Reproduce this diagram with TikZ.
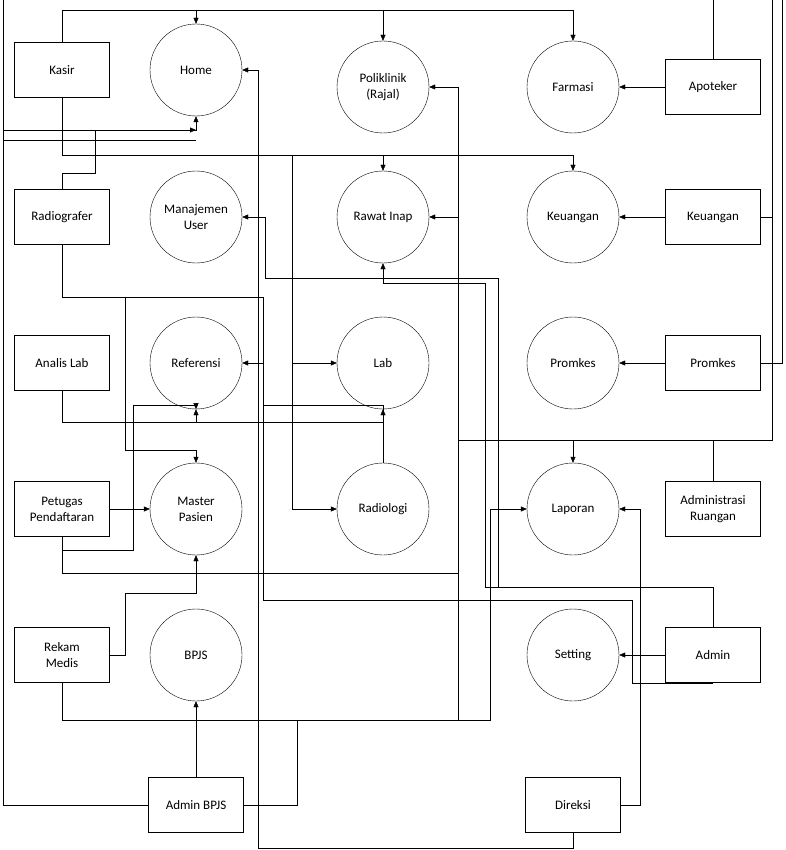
\documentclass[tikz,border=0pt]{standalone}
\usepackage{fontspec}
\setmainfont{Carlito}
\usetikzlibrary{arrows.meta,positioning,calc}
\tikzset{
  Actor/.style={draw,minimum width=95pt,minimum height=55pt,align=center,font=\fontsize{13}{16}\selectfont},
  Process/.style={draw,circle,minimum size=92pt,align=center,font=\fontsize{13}{16}\selectfont},
  Flow/.style={-{Triangle[length=6pt,width=5pt]},thin}
}
\begin{document}
\begin{tikzpicture}[x=1pt,y=-1pt]
    \useasboundingbox (0,0) rectangle (785,850);
    % actors
    \node[Actor](Kasir) at (62,70){Kasir};
    \node[Actor](Radiografer) at (62,217){Radiografer};
    \node[Actor](Analis-Lab) at (62,363){Analis Lab};
    \node[Actor](Petugas) at (62,509){Petugas\\Pendaftaran};
    \node[Actor](Rekam-Medis) at (62,655){Rekam\\Medis};
    \node[Actor](Admin-BPJS) at (196,805){Admin BPJS};
    \node[Actor](Apoteker) at (713,87){Apoteker};
    \node[Actor](Keuangan-Actor) at (713,217){Keuangan};
    \node[Actor](Promkes-Actor) at (713,363){Promkes};
    \node[Actor](Adm-Ruangan) at (713,509){Administrasi\\Ruangan};
    \node[Actor](Admin) at (713,655){Admin};
    \node[Actor](Direksi) at (573,805){Direksi};
    % processes
    \node[Process](Home) at (196,70){Home};
    \node[Process](Poliklinik) at (383,87){Poliklinik\\(Rajal)};
    \node[Process](Farmasi) at (573,87){Farmasi};
    \node[Process](Manajemen-User) at (196,217){Manajemen\\User};
    \node[Process](Rawat-Inap) at (383,217){Rawat Inap};
    \node[Process](Keuangan) at (573,217){Keuangan};
    \node[Process](Referensi) at (196,363){Referensi};
    \node[Process](Lab) at (383,363){Lab};
    \node[Process](Promkes) at (573,363){Promkes};
    \node[Process](Master-Pasien) at (196,509){Master\\Pasien};
    \node[Process](Radiologi) at (383,509){Radiologi};
    \node[Process](Laporan) at (573,509){Laporan};
    \node[Process](BPJS) at (196,655){BPJS};
    \node[Process](Setting) at (573,655){Setting};
    % helper points
    \coordinate (Top-Bus) at (62,10);
    \coordinate (Mid-Bus) at (62,155);
    \coordinate (Left-Edge) at (3,130);
    \coordinate (Low-Bus) at (62,720);
    \coordinate (Right-Bus) at (772,440);
    % connectors
    \draw[Flow] (Kasir.north) |- (Top-Bus) -| (Farmasi.north);
    \draw[Flow] (Home.north |- Top-Bus) -- (Home.north);
    \draw[Flow] (Poliklinik.north |- Top-Bus) -- (Poliklinik.north);
    \draw[Flow] (Kasir.south) |- (Mid-Bus) -| (Keuangan.north);
    \draw[Flow] (Rawat-Inap.north |- Mid-Bus) -- (Rawat-Inap.north);
    \draw[Flow] (292,155) |- (Radiologi.west);
    \draw[Flow] (292,363) -- (Lab.west);
    \draw[Flow] (Left-Edge) -| (Home.south);
    \draw (3,140) -- (196,140);
    \draw[Flow] (Radiografer.north) |- (95,173) |- (Home.south |- 0,130);
    \draw[Flow] (Radiografer.south) |- (125,297) |- (125,450) -| (Master-Pasien.north);
    \draw (125,297) -| (263,405) -| (Radiologi.north);
    \draw[Flow] (Analis-Lab.south) |- (62,422) -| (Lab.south);
    \draw[Flow] (Referensi.south |- 0,422) -- (Referensi.south);
    \draw[Flow] (Petugas.east) -- (Master-Pasien.west);
    \draw[Flow] (Petugas.south) |- (133,550) |- (133,405) -| (Referensi.south);
    \draw[Flow] (Petugas.south) |- (458,573) |- (Poliklinik.east);
    \draw[Flow] (458,217) -- (Rawat-Inap.east);
    \draw[Flow] (Rekam-Medis.east) -| (125,593) -| (Master-Pasien.south);
    \draw[Flow] (Rekam-Medis.south) |- (Low-Bus) -| (490,509) -- (Laporan.west);
    \draw (458,573) -- (458,720);
    \draw[Flow] (Admin-BPJS.north) -- (BPJS.south);
    \draw (Admin-BPJS.east) -| (297,720);
    \draw (Admin-BPJS.west) -| (3,0);
    \draw[Flow] (Apoteker.west) -- (Farmasi.east);
    \draw (Apoteker.north) -- (713,0);
    \draw[Flow] (Keuangan-Actor.west) -- (Keuangan.east);
    \draw[Flow] (Promkes-Actor.west) -- (Promkes.east);
    \draw (Keuangan-Actor.east) -- (772,217);
    \draw (Promkes-Actor.east) -| (782,0);
    \draw[Flow] (772,0) |- (Right-Bus) -| (Laporan.north);
    \draw (Adm-Ruangan.north) |- (458,440);
    \draw[Flow] (Admin.north) |- (485,587) |- (383,283) -- (Rawat-Inap.south);
    \draw[Flow] (Admin.west) -- (Setting.east);
    \draw[Flow] (Admin.south) -| (632,600) -| (263,600) |- (Referensi.east);
    \draw[Flow] (Direksi.east) -| (640,509) -- (Laporan.east);
    \draw[Flow] (Direksi.south) |- (258,848) |- (Home.east);
    \draw[Flow] (498,278) -| (265,278) |- (Manajemen-User.east);
    \draw (498,278) -- (498,587);
\end{tikzpicture}
\end{document}
